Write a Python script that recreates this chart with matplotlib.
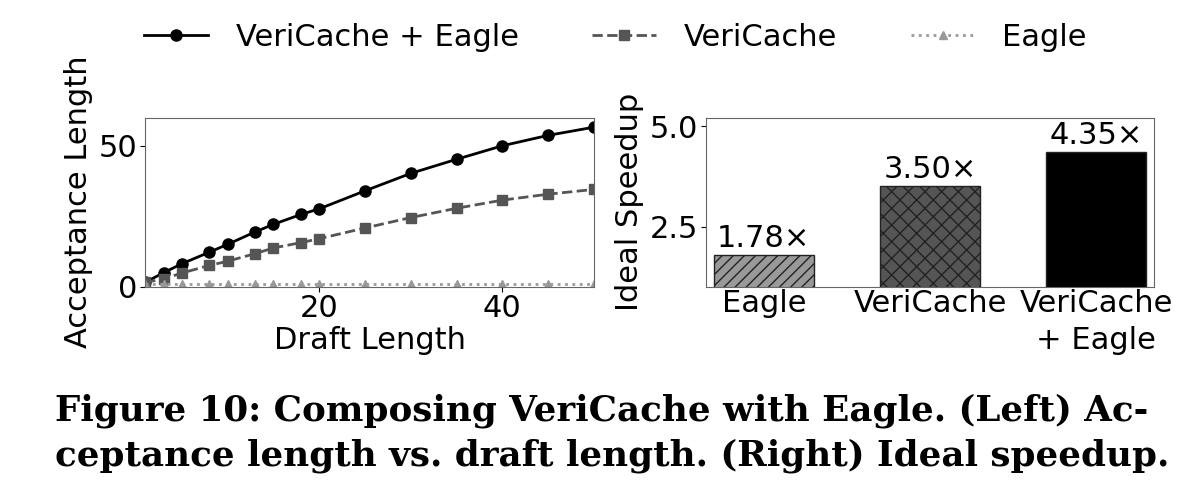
import matplotlib
matplotlib.use("Agg")
import matplotlib.pyplot as plt

# left panel: acceptance length vs draft length
draft_len = [1, 3, 5, 8, 10, 13, 15, 18, 20, 25, 30, 35, 40, 45, 50]
acc_both = [1.5, 4.9, 8.1, 12.2, 15.0, 19.4, 22.1, 25.6, 27.6, 34.0, 40.2, 45.2, 50.0, 53.7, 56.6]
acc_vericache = [1.5, 2.7, 4.8, 7.5, 9.0, 11.7, 13.7, 15.6, 17.0, 20.8, 24.5, 27.8, 30.7, 32.8, 34.5]
acc_eagle = [1.0, 1.0, 1.0, 1.0, 1.0, 1.0, 1.0, 1.0, 1.0, 1.0, 1.0, 1.0, 1.0, 1.0, 1.0]

# right panel: ideal speedup
methods = ["Eagle", "VeriCache", "VeriCache\n+ Eagle"]
speedup = [1.78, 3.50, 4.35]

plt.rcParams["font.family"] = "DejaVu Sans"
plt.rcParams["font.size"] = 22
plt.rcParams["hatch.linewidth"] = 1.0

fig = plt.figure(figsize=(12, 4.8), dpi=100)
ax1 = fig.add_axes([0.121, 0.403, 0.374, 0.352])
ax2 = fig.add_axes([0.588, 0.403, 0.374, 0.352])

ax1.plot(draft_len, acc_both, color="black", ls="-", lw=2, marker="o", ms=8,
         label="VeriCache + Eagle")
ax1.plot(draft_len, acc_vericache, color="#555555", ls="--", lw=2, marker="s", ms=7,
         label="VeriCache")
ax1.plot(draft_len, acc_eagle, color="#999999", ls=":", lw=2, marker="^", ms=6,
         label="Eagle")
ax1.set_xlim(1, 50)
ax1.set_ylim(0, 60)
ax1.set_xticks([20, 40])
ax1.set_yticks([0, 50])
ax1.set_xlabel("Draft Length", labelpad=2)
ax1.set_ylabel("Acceptance Length", labelpad=4)

colors = ["#999999", "#555555", "black"]
hatches = ["///", "xx", ""]
x = range(len(methods))
bars = ax2.bar(x, speedup, width=0.6, color=colors, edgecolor="#222222", lw=1)
for b, h in zip(bars, hatches):
    b.set_hatch(h)
for xi, v in zip(x, speedup):
    ax2.text(xi, v + 0.05, f"{v:.2f}\u00d7", ha="center", va="bottom")
ax2.set_xlim(-0.35, 2.35)
ax2.set_ylim(1, 5.22)
ax2.set_yticks([2.5, 5.0])
ax2.set_xticks(list(x))
ax2.set_xticklabels(methods, linespacing=1.35)
ax2.tick_params(axis="x", length=0)
ax2.set_ylabel("Ideal Speedup", labelpad=4)

for ax in (ax1, ax2):
    for s in ax.spines.values():
        s.set_color("#666666")
    ax.tick_params(pad=2)

h, l = ax1.get_legend_handles_labels()
fig.legend(h, l, loc="center", bbox_to_anchor=(0.513, 0.922), ncol=3, frameon=False,
           handlelength=2.1, handletextpad=0.9, columnspacing=2.4)

fig.text(0.046, 0.145, "Figure 10: Composing VeriCache with Eagle. (Left) Ac-",
         family="DejaVu Serif", weight="bold", fontsize=25.7, va="center")
fig.text(0.046, 0.05, "ceptance length vs. draft length. (Right) Ideal speedup.",
         family="DejaVu Serif", weight="bold", fontsize=25.7, va="center")

fig.savefig("out.png", dpi=100)
